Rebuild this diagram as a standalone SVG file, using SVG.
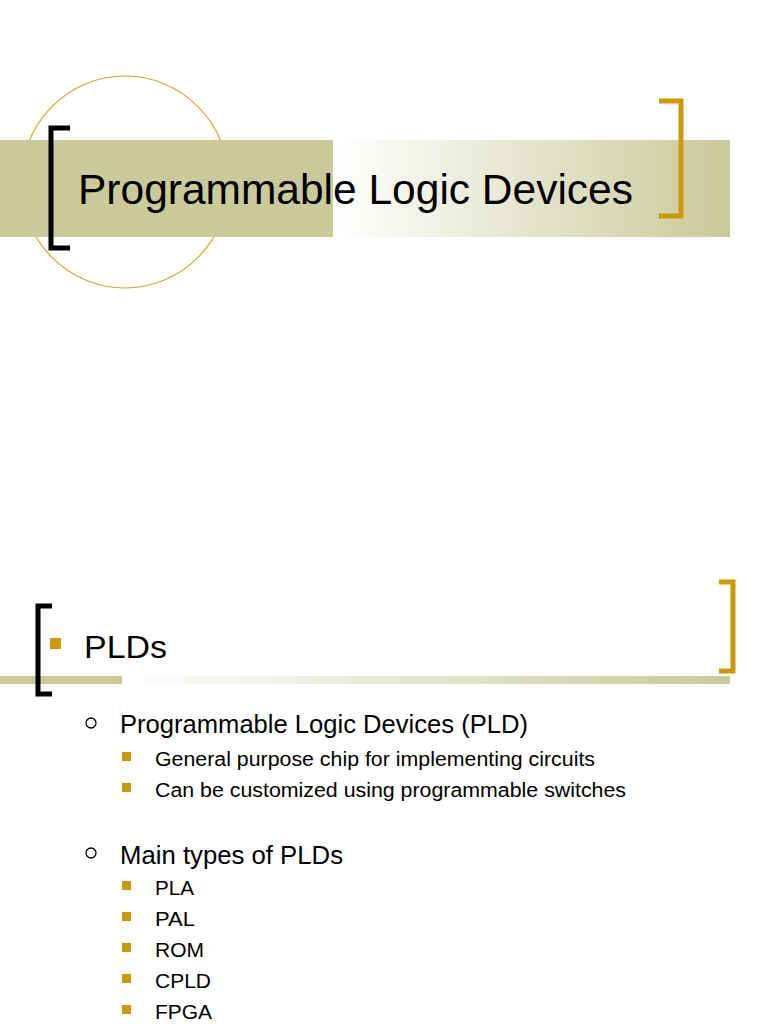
<svg xmlns="http://www.w3.org/2000/svg" width="768" height="1024" viewBox="0 0 768 1024">
<defs>
<linearGradient id="g1" x1="0" x2="1" y1="0" y2="0"><stop offset="0" stop-color="#ffffff"/><stop offset="1" stop-color="#c9c99a"/></linearGradient>
</defs>
<style>
text{font-family:"Liberation Sans",Arial,sans-serif;fill:#000}
.bk{fill:none;stroke:#000;stroke-width:5}
.gd{fill:none;stroke:#cc9a06;stroke-width:5}
.sq{fill:#cc9a06}
.ci{fill:none;stroke:#000;stroke-width:1.3}
</style>
<rect width="768" height="1024" fill="#fff"/>
<g id="title">
<ellipse cx="125" cy="182" rx="104" ry="106" fill="none" stroke="#d4a62a" stroke-width="1.2"/>
<rect x="0" y="140" width="333" height="97" fill="#c9c99a"/>
<rect x="333" y="140" width="397" height="97" fill="url(#g1)"/>
<path class="bk" d="M70,128 H51 V248 H70"/>
<path class="gd" d="M659,101 H681 V216 H659"/>
<text x="78" y="204" font-size="43" textLength="555" lengthAdjust="spacingAndGlyphs">Programmable Logic Devices</text>
</g>
<g id="slide2">
<rect x="0" y="676" width="122" height="8" fill="#c9c99a"/>
<rect x="122" y="676" width="608" height="8" fill="url(#g1)"/>
<path class="bk" d="M52,606 H38 V694 H52"/>
<path class="gd" d="M719,582 H733 V671 H719"/>
<rect class="sq" x="50" y="638" width="11" height="11"/>
<text x="84" y="658" font-size="32" textLength="83" lengthAdjust="spacingAndGlyphs">PLDs</text>
<circle class="ci" cx="91" cy="723" r="5"/>
<text x="120" y="733" font-size="25" textLength="408" lengthAdjust="spacingAndGlyphs">Programmable Logic Devices (PLD)</text>
<rect class="sq" x="122" y="752" width="9" height="9"/>
<text x="155" y="766" font-size="20" textLength="440" lengthAdjust="spacingAndGlyphs">General purpose chip for implementing circuits</text>
<rect class="sq" x="122" y="783" width="9" height="9"/>
<text x="155" y="797" font-size="20" textLength="471" lengthAdjust="spacingAndGlyphs">Can be customized using programmable switches</text>
<circle class="ci" cx="91" cy="853" r="5"/>
<text x="120" y="864" font-size="25" textLength="223" lengthAdjust="spacingAndGlyphs">Main types of PLDs</text>
<rect class="sq" x="122" y="881" width="9" height="9"/>
<text x="155" y="895" font-size="20" textLength="39" lengthAdjust="spacingAndGlyphs">PLA</text>
<rect class="sq" x="122" y="912" width="9" height="9"/>
<text x="155" y="926" font-size="20" textLength="40" lengthAdjust="spacingAndGlyphs">PAL</text>
<rect class="sq" x="122" y="943" width="9" height="9"/>
<text x="155" y="957" font-size="20" textLength="49" lengthAdjust="spacingAndGlyphs">ROM</text>
<rect class="sq" x="122" y="974" width="9" height="9"/>
<text x="155" y="988" font-size="20" textLength="56" lengthAdjust="spacingAndGlyphs">CPLD</text>
<rect class="sq" x="122" y="1005" width="9" height="9"/>
<text x="155" y="1019" font-size="20" textLength="57" lengthAdjust="spacingAndGlyphs">FPGA</text>
</g>
</svg>
